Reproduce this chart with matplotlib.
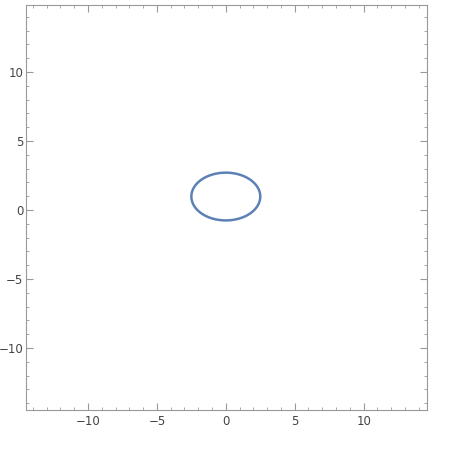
import numpy as np
import matplotlib.pyplot as plt
from matplotlib.ticker import MultipleLocator

# ellipse parameters
center = [0.0, 0.97]
semi_axes = [2.5, 1.73]
x_range = [-14.5, 14.6]
y_range = [-14.5, 14.85]
ticks = [-10, -5, 0, 5, 10]

fig = plt.figure(figsize=(4.74, 4.5), dpi=100)
ax = fig.add_axes([26/474, 40/450, 401/474, 405/450])

xs = np.linspace(x_range[0], x_range[1], 600)
ys = np.linspace(y_range[0], y_range[1], 600)
X, Y = np.meshgrid(xs, ys)
F = ((X - center[0]) / semi_axes[0])**2 + ((Y - center[1]) / semi_axes[1])**2
ax.contour(X, Y, F, levels=[1], colors='#5e81b5', linewidths=1.8)

ax.set_xlim(x_range)
ax.set_ylim(y_range)
ax.set_xticks(ticks)
ax.set_yticks(ticks)
ax.set_xticklabels([str(t).replace('-', '\u2212') for t in ticks])
ax.set_yticklabels([str(t).replace('-', '\u2212') for t in ticks])
ax.xaxis.set_minor_locator(MultipleLocator(1))
ax.yaxis.set_minor_locator(MultipleLocator(1))
for s in ax.spines.values():
    s.set_color('#999999')
ax.tick_params(which='both', direction='in', colors='#999999', labelcolor='#444444',
               top=True, right=True, labelsize=8.5)
ax.tick_params(axis='y', which='major', pad=2)
ax.tick_params(which='major', length=5)
ax.tick_params(which='minor', length=2.5)

fig.savefig('out.png', dpi=100)
